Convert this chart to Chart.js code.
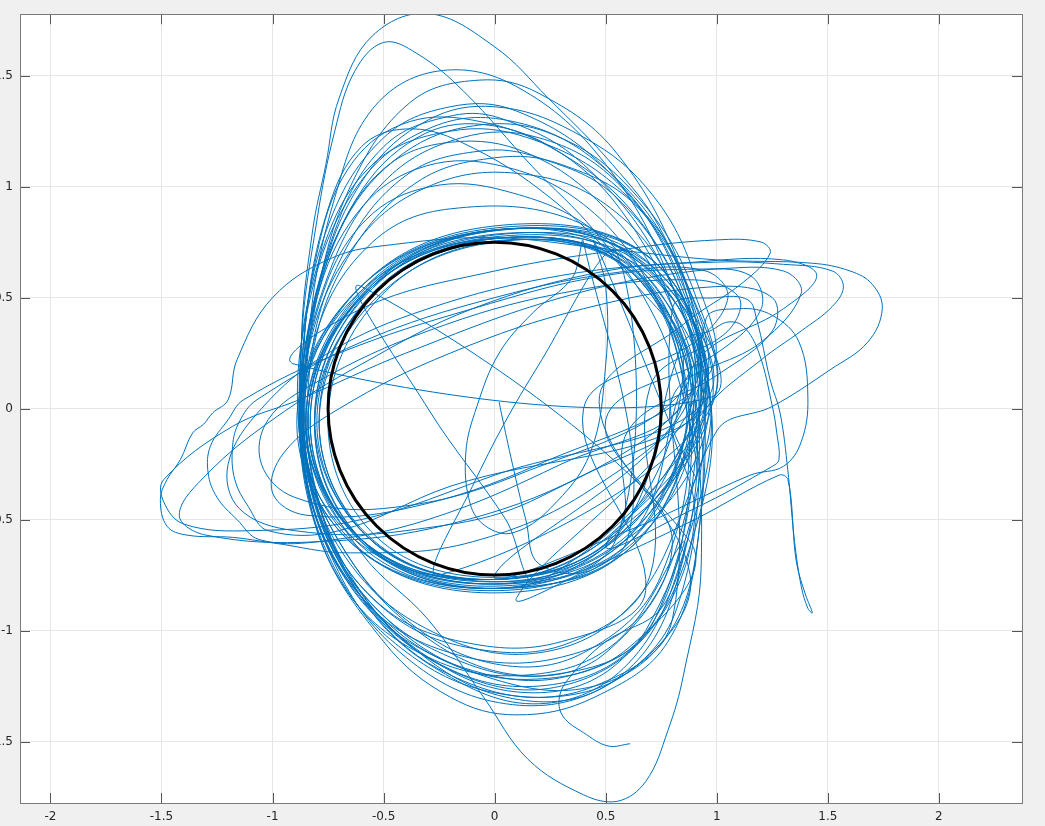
<!DOCTYPE html>
<html lang="en">
<head>
    <meta charset="UTF-8">
    <title>Trajectory around unit circle</title>
    <script src="https://cdn.jsdelivr.net/npm/chart.js"></script>
    <style>
        html, body { margin: 0; padding: 0; background: #f0f0f0; overflow: hidden; }
        #plot { position: absolute; left: -40px; top: 0; width: 1085px; height: 826px; }
    </style>
</head>
<body>
    <canvas id="plot" width="1085" height="826"></canvas>
    <script>
    // axis ticks and limits
    const xTicks = [-2, -1.5, -1, -0.5, 0, 0.5, 1, 1.5, 2];
    const yTicks = [-1.5, -1, -0.5, 0, 0.5, 1, 1.5];
    const xLimits = [-2.137, 2.374];
    const yLimits = [-1.777, 1.777];

    // reference circle
    const circleCenter = [0, 0];
    const circleRadius = 0.75;

    // trajectory, piece by piece, in the order it is traced
    const startLeg = [[0.02,0.03],[0.03,-0.02],[0.08,-0.25],[0.14,-0.5],[0.2,-0.7],[0.45,-0.72],[0.75,-0.4]];
    const ring1 = [[0.86,0.05],[0.61,0.62],[0.05,0.77],[-0.52,0.54],[-0.80,-0.03],[-0.57,-0.58],[0.0,-0.77],[0.54,-0.55]];
    const ring2 = [[0.90,0.05],[0.64,0.64],[0.05,0.79],[-0.55,0.56],[-0.84,-0.03],[-0.60,-0.60],[0.0,-0.79],[0.57,-0.57]];
    const ring3 = [[0.95,0.06],[0.68,0.65],[0.06,0.81],[-0.58,0.57],[-0.88,-0.03],[-0.64,-0.61],[0.0,-0.81],[0.60,-0.58]];
    const ring4 = [[0.87,0.04],[0.63,0.61],[0.08,0.76],[-0.48,0.54],[-0.75,-0.03],[-0.53,-0.58],[0.03,-0.76],[0.56,-0.55]];
    const ring5 = [[0.97,0.05],[0.71,0.67],[0.07,0.82],[-0.57,0.58],[-0.89,-0.03],[-0.63,-0.62],[0.02,-0.82],[0.64,-0.59]];
    const ring6 = [[0.87,0.03],[0.62,0.61],[0.05,0.76],[-0.53,0.53],[-0.81,-0.05],[-0.58,-0.61],[0.0,-0.80],[0.55,-0.58]];
    const ring7 = [[0.96,0.06],[0.69,0.66],[0.08,0.81],[-0.54,0.58],[-0.84,-0.02],[-0.59,-0.60],[0.03,-0.79],[0.62,-0.57]];
    const ring8 = [[0.87,0.05],[0.62,0.63],[0.04,0.77],[-0.55,0.55],[-0.83,-0.03],[-0.60,-0.59],[-0.01,-0.77],[0.55,-0.56]];
    const ring9 = [[0.97,0.05],[0.71,0.64],[0.09,0.79],[-0.54,0.56],[-0.84,-0.03],[-0.59,-0.60],[0.04,-0.79],[0.64,-0.57]];
    const ring10 = [[0.85,0.05],[0.60,0.63],[0.05,0.77],[-0.52,0.55],[-0.79,-0.03],[-0.56,-0.59],[0.0,-0.77],[0.54,-0.56]];
    const ring11 = [[0.93,0.05],[0.66,0.66],[0.06,0.81],[-0.55,0.58],[-0.85,-0.03],[-0.60,-0.62],[0.01,-0.81],[0.59,-0.59]];
    const ring12 = [[0.95,0.04],[0.69,0.61],[0.10,0.76],[-0.50,0.53],[-0.79,-0.04],[-0.55,-0.59],[0.05,-0.78],[0.62,-0.56]];
    const ring13 = [[0.96,0.05],[0.69,0.63],[0.07,0.78],[-0.55,0.55],[-0.85,-0.03],[-0.60,-0.59],[0.02,-0.78],[0.61,-0.56]];
    const ring14 = [[0.86,0.05],[0.61,0.65],[0.05,0.81],[-0.53,0.57],[-0.81,-0.03],[-0.58,-0.61],[0.0,-0.81],[0.55,-0.58]];
    const ring15 = [[0.97,0.05],[0.71,0.67],[0.08,0.83],[-0.56,0.59],[-0.87,-0.03],[-0.61,-0.63],[0.03,-0.83],[0.64,-0.60]];
    const ring16 = [[0.91,0.07],[0.65,0.66],[0.07,0.81],[-0.52,0.57],[-0.81,-0.01],[-0.57,-0.58],[0.02,-0.77],[0.58,-0.55]];
    const ring17 = [[0.90,0.05],[0.63,0.63],[0.03,0.77],[-0.58,0.55],[-0.88,-0.03],[-0.63,-0.59],[-0.02,-0.77],[0.56,-0.56]];
    const ring18 = [[0.97,0.05],[0.72,0.66],[0.10,0.81],[-0.53,0.58],[-0.83,-0.03],[-0.58,-0.62],[0.05,-0.81],[0.65,-0.59]];

    const tallA = [[0.95,0.1],[0.85,0.6],[0.55,1.15],[0.2,1.42],[-0.07,1.48],[-0.38,1.38],[-0.65,1.0],[-0.8,0.5],[-0.86,-0.1],[-0.72,-0.65],[-0.4,-1.05],[0.05,-1.3],[0.5,-1.25],[0.8,-0.85]];
    const tallB = [[0.9,-0.3],[0.85,0.05],[0.7,0.45],[0.45,0.8],[0.17,1.09],[-0.14,1.43],[-0.35,1.6],[-0.5,1.65],[-0.63,1.52],[-0.72,1.25],[-0.8,0.85],[-0.87,0.3],[-0.85,-0.2],[-0.7,-0.6],[-0.4,-0.95],[0.0,-1.15],[0.4,-1.1],[0.75,-0.75]];
    const tallC = [[0.85,0.2],[0.6,0.6],[0.25,0.95],[-0.15,1.2],[-0.4,1.26],[-0.6,1.18],[-0.75,0.9],[-0.85,0.4],[-0.86,-0.15],[-0.7,-0.6],[-0.35,-1.0],[0.1,-1.2],[0.5,-1.1],[0.8,-0.6]];
    const tallD = [[0.92,0.0],[0.8,0.55],[0.5,1.1],[0.1,1.45],[-0.26,1.52],[-0.55,1.35],[-0.72,0.95],[-0.83,0.4],[-0.84,-0.2],[-0.65,-0.75],[-0.3,-1.12],[0.15,-1.28],[0.55,-1.15],[0.82,-0.7]];
    const tallE = [[0.93,0.05],[0.85,0.5],[0.55,0.95],[0.2,1.13],[-0.07,1.16],[-0.4,1.05],[-0.68,0.7],[-0.83,0.2],[-0.8,-0.4],[-0.55,-0.9],[-0.15,-1.2],[0.3,-1.25],[0.7,-1.0],[0.9,-0.5]];
    const tallF = [[0.95,-0.1],[0.88,0.45],[0.74,0.82],[0.53,1.1],[0.24,1.4],[0.0,1.63],[-0.3,1.78],[-0.55,1.68],[-0.7,1.4],[-0.76,1.1],[-0.82,0.8],[-0.87,0.3],[-0.84,-0.2],[-0.6,-0.65],[-0.3,-0.95],[-0.05,-1.3],[0.15,-1.58],[0.4,-1.74],[0.55,-1.77],[0.68,-1.68],[0.78,-1.45],[0.85,-1.2],[0.93,-0.7]];
    const tallG = [[0.9,0.15],[0.75,0.65],[0.4,1.1],[0.05,1.3],[-0.19,1.32],[-0.5,1.18],[-0.72,0.8],[-0.84,0.25],[-0.82,-0.3],[-0.6,-0.85],[-0.25,-1.18],[0.2,-1.33],[0.6,-1.15],[0.85,-0.65]];
    const tallH = [[0.96,-0.05],[0.9,0.45],[0.65,0.9],[0.3,1.1],[0.0,1.13],[-0.35,1.02],[-0.65,0.7],[-0.82,0.25],[-0.85,-0.3],[-0.65,-0.8],[-0.3,-1.1],[0.15,-1.22],[0.6,-1.08],[0.88,-0.6]];
    const tallI = [[0.88,0.0],[0.75,0.45],[0.45,0.8],[0.05,0.98],[-0.29,1.0],[-0.58,0.85],[-0.78,0.5],[-0.86,0.0],[-0.78,-0.5],[-0.5,-0.9],[-0.1,-1.08],[0.35,-1.05],[0.7,-0.75]];
    const tallJ = [[0.95,0.0],[0.85,0.6],[0.55,1.0],[0.15,1.22],[-0.2,1.25],[-0.55,1.1],[-0.78,0.7],[-0.88,0.1],[-0.8,-0.55],[-0.5,-1.05],[-0.2,-1.3],[0.1,-1.38],[0.45,-1.3],[0.78,-1.05],[0.92,-0.55]];
    const tallK = [[0.9,0.1],[0.72,0.55],[0.35,0.85],[-0.2,0.9],[-0.55,0.75],[-0.8,0.35],[-0.85,-0.2],[-0.65,-0.7],[-0.25,-1.02],[0.2,-1.1],[0.6,-0.9],[0.85,-0.45]];
    const tallL = [[0.93,0.2],[0.8,0.7],[0.45,1.12],[0.05,1.3],[-0.3,1.26],[-0.62,1.0],[-0.83,0.5],[-0.88,-0.1],[-0.72,-0.7],[-0.4,-1.12],[0.05,-1.33],[0.5,-1.25],[0.82,-0.9]];
    const tallM = [[0.92,0.0],[0.8,0.55],[0.5,0.92],[0.1,1.06],[-0.3,1.0],[-0.62,0.75],[-0.83,0.3],[-0.86,-0.25],[-0.68,-0.8],[-0.3,-1.12],[0.15,-1.2],[0.55,-1.05],[0.85,-0.6]];
    const tallN = [[0.94,0.05],[0.82,0.62],[0.5,1.08],[0.1,1.34],[-0.2,1.36],[-0.5,1.22],[-0.74,0.85],[-0.86,0.3],[-0.84,-0.3],[-0.62,-0.82],[-0.25,-1.15],[0.2,-1.25],[0.62,-1.08],[0.88,-0.62]];
    const tallO = [[0.9,-0.1],[0.82,0.4],[0.6,0.85],[0.3,1.15],[-0.05,1.28],[-0.35,1.22],[-0.62,0.95],[-0.8,0.5],[-0.88,-0.05],[-0.78,-0.55],[-0.5,-0.95],[-0.1,-1.18],[0.35,-1.2],[0.72,-0.95]];
    const tallP = [[0.96,0.15],[0.9,0.6],[0.68,1.0],[0.35,1.25],[0.0,1.36],[-0.3,1.3],[-0.58,1.05],[-0.78,0.6],[-0.87,0.05],[-0.8,-0.5],[-0.55,-0.92],[-0.2,-1.2],[0.25,-1.3],[0.65,-1.15],[0.88,-0.75]];
    const tallQ = [[0.9,0.05],[0.78,0.5],[0.5,0.9],[0.15,1.15],[-0.2,1.2],[-0.5,1.08],[-0.72,0.75],[-0.85,0.25],[-0.84,-0.35],[-0.6,-0.85],[-0.2,-1.1],[0.3,-1.12],[0.7,-0.88]];
    const tallR = [[0.97,0.0],[0.9,0.52],[0.62,0.98],[0.25,1.24],[-0.12,1.27],[-0.45,1.12],[-0.7,0.8],[-0.84,0.35],[-0.87,-0.2],[-0.72,-0.72],[-0.42,-1.08],[0.0,-1.28],[0.45,-1.25],[0.8,-0.95]];
    const tallS = [[0.86,0.1],[0.7,0.55],[0.4,0.92],[0.0,1.1],[-0.35,1.08],[-0.62,0.88],[-0.8,0.5],[-0.87,0.0],[-0.78,-0.5],[-0.52,-0.88],[-0.15,-1.05],[0.3,-1.05],[0.68,-0.82]];
    const tallT = [[0.93,-0.1],[0.88,0.4],[0.65,0.85],[0.3,1.15],[-0.1,1.3],[-0.42,1.28],[-0.66,1.08],[-0.8,0.7],[-0.86,0.2],[-0.82,-0.4],[-0.58,-0.85],[-0.2,-1.12],[0.25,-1.2],[0.68,-1.0]];
    const tallU = [[0.92,0.1],[0.82,0.6],[0.55,1.02],[0.2,1.22],[-0.15,1.22],[-0.5,1.02],[-0.75,0.6],[-0.86,0.05],[-0.76,-0.55],[-0.45,-0.98],[0.0,-1.22],[0.45,-1.25],[0.78,-1.02],[0.92,-0.55]];

    const wideA = [[0.95,0.0],[1.2,0.22],[1.38,0.35],[1.52,0.46],[1.57,0.55],[1.52,0.62],[1.3,0.65],[1.0,0.66],[0.5,0.62],[-0.1,0.45],[-0.6,0.2],[-1.0,-0.05],[-1.3,-0.3],[-1.42,-0.48],[-1.3,-0.57],[-0.8,-0.6],[-0.2,-0.52],[0.4,-0.3]];
    const wideB = [[0.5,-0.05],[1.0,0.25],[1.2,0.45],[1.15,0.6],[0.9,0.62],[0.3,0.5],[-0.4,0.25],[-0.88,0.04],[-1.18,-0.08],[-1.49,-0.32],[-1.49,-0.42],[-1.4,-0.52],[-1.1,-0.55],[-0.6,-0.5],[0.0,-0.3]];
    const wideC = [[0.8,0.05],[1.2,0.3],[1.38,0.52],[1.3,0.62],[1.0,0.63],[0.5,0.6],[-0.1,0.45],[-0.7,0.25],[-1.13,0.04],[-1.2,-0.05],[-1.28,-0.17],[-1.29,-0.29],[-1.25,-0.4],[-1.16,-0.5],[-1.06,-0.59],[-0.8,-0.6],[-0.3,-0.5],[0.3,-0.25]];
    const wideD = [[1.0,-0.1],[1.25,0.01],[1.51,0.175],[1.68,0.3],[1.745,0.45],[1.7,0.56],[1.6,0.62],[1.43,0.655],[1.0,0.67],[0.5,0.72],[0.0,0.77],[-0.45,0.74],[-0.73,0.68],[-1.0,0.5],[-1.16,0.22],[-1.2,0.04],[-1.27,-0.02],[-1.31,-0.07],[-1.36,-0.11],[-1.415,-0.23],[-1.475,-0.32],[-1.505,-0.41],[-1.475,-0.53],[-1.385,-0.57],[-1.18,-0.58],[-1.0,-0.605],[-0.65,-0.65],[-0.1,-0.6],[0.47,-0.34]];
    const wideE = [[0.4,0.0],[0.9,0.3],[1.05,0.5],[0.95,0.62],[0.6,0.62],[0.0,0.5],[-0.6,0.3],[-1.07,0.04],[-1.15,-0.06],[-1.18,-0.17],[-1.17,-0.32],[-1.11,-0.44],[-1.02,-0.55],[-0.7,-0.55],[-0.2,-0.35]];
    const wideF = [[0.6,-0.1],[1.0,0.15],[1.25,0.35],[1.25,0.5],[1.0,0.55],[0.4,0.45],[-0.2,0.25],[-0.7,0.0],[-0.95,-0.2],[-1.0,-0.38],[-0.85,-0.48],[-0.4,-0.45],[0.2,-0.25]];
    const wideG = [[0.7,0.1],[1.05,0.35],[1.1,0.5],[0.9,0.58],[0.3,0.52],[-0.3,0.35],[-0.8,0.12],[-1.02,-0.05],[-1.05,-0.25],[-0.9,-0.4],[-0.5,-0.45],[0.1,-0.3]];
    const wideH = [[0.9,0.2],[1.3,0.45],[1.45,0.6],[1.3,0.67],[0.9,0.66],[0.3,0.6],[-0.3,0.45],[-0.75,0.25],[-1.05,0.0],[-1.2,-0.25],[-1.15,-0.45],[-0.9,-0.55],[-0.4,-0.55],[0.2,-0.4]];

    const innerLoop = [[0.4,0.75],[0.35,0.59],[0.17,0.43],[0.02,0.25],[-0.08,0.01],[-0.13,-0.2],[-0.11,-0.43],[-0.04,-0.53],[0.08,-0.56],[0.25,-0.45],[0.43,-0.2],[0.5,0.2],[0.5,0.55],[0.45,0.75]];
    const chordA = [[0.55,0.7],[0.2,0.2],[-0.1,-0.35],[-0.25,-0.75]];
    const chordB = [[-0.6,0.55],[-0.3,0.0],[0.05,-0.5],[0.2,-0.78]];
    const smallLobe = [[0.47,0.03],[0.85,0.38],[1.12,0.57],[1.24,0.7],[1.2,0.75],[1.0,0.76],[0.6,0.72],[0.0,0.62],[-0.6,0.45],[-0.9,0.2]];
    const rightLoopA = [[0.95,0.4],[1.1,0.45],[1.25,0.42],[1.37,0.3],[1.41,0.05],[1.38,-0.15],[1.3,-0.26],[1.15,-0.3],[0.6,-0.55],[0.0,-0.75]];
    const rightLoopB = [[0.85,0.3],[0.97,0.35],[1.05,0.39],[1.12,0.37],[1.19,0.25],[1.25,0.01],[1.27,-0.11],[1.28,-0.23],[1.25,-0.26],[0.9,-0.45],[0.5,-0.62]];
    const tailLoop = [[0.8,0.45],[1.0,0.5],[1.14,0.49],[1.18,0.40],[1.24,0.13],[1.285,-0.02],[1.32,-0.28],[1.34,-0.5],[1.36,-0.7],[1.40,-0.84],[1.43,-0.92],[1.41,-0.9],[1.38,-0.8],[1.35,-0.6],[1.32,-0.32],[1.28,-0.3],[0.9,-0.5],[0.475,-0.70],[0.1,-0.85]];
    const endLeg = [[0.75,-0.9],[0.5,-1.05],[0.33,-1.22],[0.29,-1.31],[0.31,-1.39],[0.40,-1.46],[0.51,-1.52],[0.61,-1.51]];

    const trajectory = [].concat(
        startLeg, ring1, tallA, ring2, wideA, ring3, innerLoop, tallB, ring4, tallC,
        wideB, ring13, tallN, ring5, tallD, rightLoopA, ring6, chordA, tallO, tallE,
        wideC, ring14, ring7, tallF, ring8, wideF, tallP, smallLobe, ring9, tallG,
        ring15, tallQ, wideD, ring10, tallH, chordB, tallR, tailLoop, ring16, ring11,
        tallI, wideG, tallS, wideE, tallJ, ring17, rightLoopB, tallT, ring12, wideH,
        tallK, ring18, tallU, tallL, tallM, endLeg
    );

    const tickFont = { family: 'DejaVu Sans', size: 12 };

    const axesDecor = {
        id: 'axesDecor',
        beforeDraw(chart) {
            const { ctx, chartArea: a } = chart;
            ctx.save();
            ctx.fillStyle = '#ffffff';
            ctx.fillRect(a.left, a.top, a.right - a.left, a.bottom - a.top);
            ctx.restore();
        },
        // black circle on top of the trajectory
        afterDatasetsDraw(chart) {
            const { ctx, scales: { x, y } } = chart;
            const cx = x.getPixelForValue(circleCenter[0]);
            const cy = y.getPixelForValue(circleCenter[1]);
            const rx = x.getPixelForValue(circleCenter[0] + circleRadius) - cx;
            const ry = cy - y.getPixelForValue(circleCenter[1] + circleRadius);
            ctx.save();
            ctx.beginPath();
            ctx.ellipse(cx, cy, rx, ry, 0, 0, Math.PI * 2);
            ctx.lineWidth = 3;
            ctx.strokeStyle = '#000000';
            ctx.stroke();
            ctx.restore();
        },
        // box and inward ticks on all four sides
        afterDraw(chart) {
            const { ctx, chartArea: a, scales: { x, y } } = chart;
            const len = 10;
            ctx.save();
            ctx.strokeStyle = '#555555';
            ctx.lineWidth = 1;
            ctx.beginPath();
            xTicks.forEach(v => {
                const px = Math.round(x.getPixelForValue(v)) + 0.5;
                ctx.moveTo(px, a.bottom); ctx.lineTo(px, a.bottom - len);
                ctx.moveTo(px, a.top); ctx.lineTo(px, a.top + len);
            });
            yTicks.forEach(v => {
                const py = Math.round(y.getPixelForValue(v)) + 0.5;
                ctx.moveTo(a.left, py); ctx.lineTo(a.left + len, py);
                ctx.moveTo(a.right, py); ctx.lineTo(a.right - len, py);
            });
            ctx.stroke();
            ctx.strokeStyle = '#7a7a7a';
            ctx.strokeRect(Math.round(a.left) + 0.5, Math.round(a.top) + 0.5,
                Math.round(a.right - a.left), Math.round(a.bottom - a.top));
            ctx.restore();
        }
    };

    new Chart(document.getElementById('plot'), {
        type: 'scatter',
        data: {
            datasets: [{
                data: trajectory.map(([x, y]) => ({ x, y })),
                showLine: true,
                borderColor: '#0072BD',
                borderWidth: 1,
                pointRadius: 0,
                tension: 0.38,
                fill: false
            }]
        },
        options: {
            responsive: false,
            animation: false,
            devicePixelRatio: 1,
            layout: { padding: { left: 0, right: 23, top: 14, bottom: 0 } },
            plugins: { legend: { display: false }, tooltip: { enabled: false } },
            scales: {
                x: {
                    type: 'linear',
                    min: xLimits[0], max: xLimits[1],
                    afterBuildTicks: s => { s.ticks = xTicks.map(v => ({ value: v })); },
                    afterFit: s => { s.height = 23; },
                    grid: { color: '#e6e6e6', drawTicks: false },
                    border: { display: false },
                    ticks: { padding: 7, color: '#262626', font: tickFont, autoSkip: false, maxRotation: 0,
                             callback: v => String(v) }
                },
                y: {
                    type: 'linear',
                    min: yLimits[0], max: yLimits[1],
                    afterBuildTicks: s => { s.ticks = yTicks.map(v => ({ value: v })); },
                    afterFit: s => { s.width = 60; },
                    grid: { color: '#e6e6e6', drawTicks: false },
                    border: { display: false },
                    ticks: { padding: 7, color: '#262626', font: tickFont, autoSkip: false,
                             callback: v => String(v) }
                }
            }
        },
        plugins: [axesDecor]
    });
    </script>
</body>
</html>
